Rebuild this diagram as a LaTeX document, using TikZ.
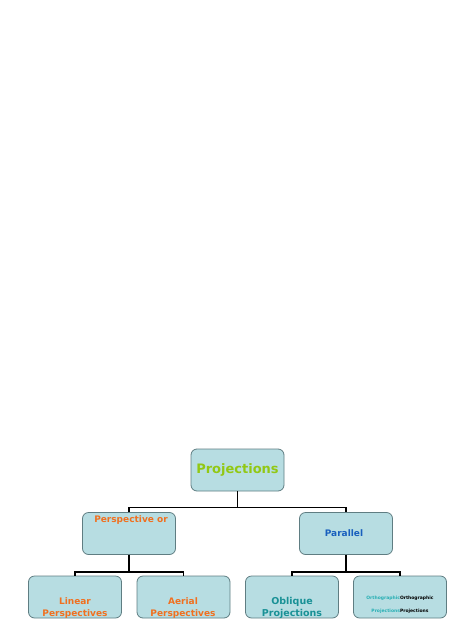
\documentclass[tikz,border=0pt]{standalone}
\usepackage{fontspec}
\setmainfont{DejaVu Sans}
\usepackage{tikz}

\definecolor{boxfill}{RGB}{183,221,226}
\definecolor{boxline}{RGB}{95,125,130}
\definecolor{projgreen}{RGB}{146,200,20}
\definecolor{persporange}{RGB}{240,112,32}
\definecolor{parblue}{RGB}{25,95,190}
\definecolor{obqteal}{RGB}{25,145,150}
\definecolor{orthteal}{RGB}{40,175,180}

\begin{document}
\begin{tikzpicture}[x=1pt,y=-1pt]
    \tikzstyle{every node}+=[inner sep=0pt]
    \tikzstyle{box}=[draw=boxline, fill=boxfill, rounded corners=6pt, line width=0.8pt, minimum width=93pt, minimum height=42pt]
    \tikzstyle{link}=[black, line width=1.3pt]
    \useasboundingbox (0,0) rectangle (474,632);
    \node [box] (proj) at (237.5,470) {};
    \node [box] (persp) at (129,533.5) {};
    \node [box] (paral) at (346,533.5) {};
    \node [box] (linear) at (75,597) {};
    \node [box] (aerial) at (183.5,597) {};
    \node [box] (obliq) at (292,597) {};
    \node [box] (ortho) at (400,597) {};
    \node [text=projgreen, font=\fontsize{13}{15}\bfseries] (projtxt) at (237.5,470) {Projections};
    \node [text=persporange, font=\fontsize{9}{11}\bfseries] (persptxt) at (131,520.5) {Perspective or};
    \node [text=parblue, font=\fontsize{9}{11}\bfseries] (paraltxt) at (344,533) {Parallel};
    \node [text=persporange, font=\fontsize{9}{12.5}\bfseries, align=center] (lineartxt) at (75,608) {Linear\\Perspectives};
    \node [text=persporange, font=\fontsize{9}{12.5}\bfseries, align=center] (aerialtxt) at (183,608) {Aerial\\Perspectives};
    \node [text=obqteal, font=\fontsize{9.5}{12.5}\bfseries, align=center] (obliqtxt) at (292,608) {Oblique\\Projections};
    \node [font=\fontsize{4.5}{13}\bfseries, align=center] (orthotxt) at (400,604.5) {\textcolor{orthteal}{Orthographic}Orthographic\\\textcolor{orthteal}{Projections}Projections};
    \draw [link] (proj.south) -- ++(0,16) -| (persp.north);
    \draw [link] (proj.south) -- ++(0,16) -| (paral.north);
    \draw [link] (persp.south) -- ++(0,17) -| (linear.north);
    \draw [link] (persp.south) -- ++(0,17) -| (aerial.north);
    \draw [link] (paral.south) -- ++(0,17) -| (obliq.north);
    \draw [link] (paral.south) -- ++(0,17) -| (ortho.north);
\end{tikzpicture}
\end{document}
